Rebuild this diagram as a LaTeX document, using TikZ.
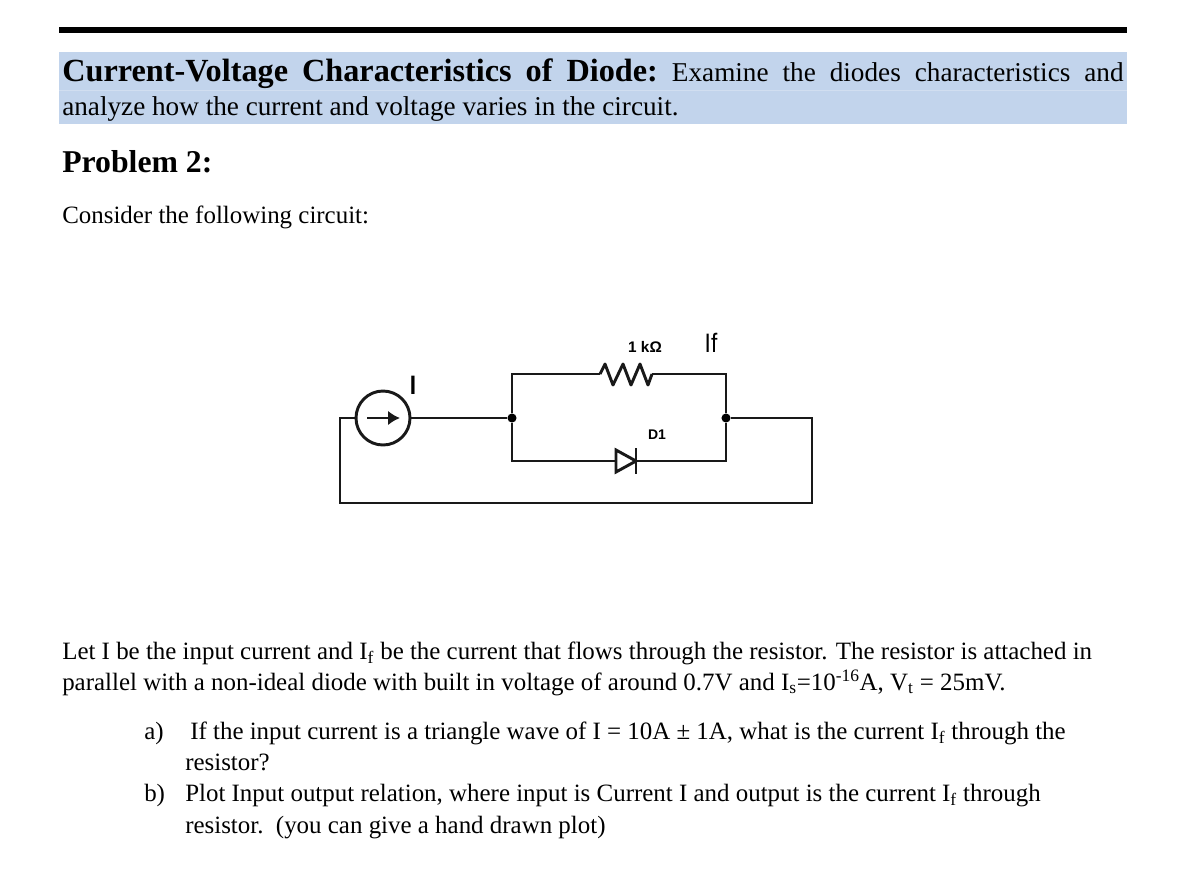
\documentclass[tikz,border=0pt]{standalone}
\usepackage{fontspec}
\usetikzlibrary{arrows.meta}
\setmainfont{Liberation Serif}
\newfontfamily\labelfont{Liberation Sans}
\newcommand{\Isub}[1]{I\textsubscript{#1}}
\definecolor{bandblue}{RGB}{194,212,236}
\tikzset{
    wire/.style={line width=2.2pt, black!90},
    junction/.style={circle, fill=black, inner sep=0pt, minimum size=6.8pt},
    source/.style={circle, draw, line width=2.2pt, black!90, inner sep=0pt, minimum size=40.5pt},
    body/.style={anchor=base west, inner sep=0pt, font=\fontsize{18.7}{24}\selectfont},
    headline/.style={body, font=\fontsize{20.4}{24}\selectfont},
    part/.style={inner sep=0pt, font=\labelfont\bfseries\fontsize{10.5}{12}\selectfont},
    current/.style={inner sep=0pt, xscale=0.85, font=\labelfont\fontsize{20}{22}\selectfont},
}
\begin{document}
\begin{tikzpicture}[x=0.75pt,y=-0.75pt]
    \useasboundingbox (0,0) rectangle (1201,894);

    \fill[black] (59,27) rectangle (1127,33);
    \fill[bandblue] (59,52) rectangle (1127,124);
    \fill[white, opacity=0.25] (59,89.5) rectangle (1127,90.5);

    \node[headline] (head1) at (62,81) {\makebox[796pt][s]{\fontsize{24.2}{24}\selectfont\bfseries Current-Voltage\hfill Characteristics\hfill of\hfill Diode:\hfill\fontsize{20.4}{24}\mdseries Examine\hfill the\hfill diodes\hfill characteristics\hfill and}};
    \node[headline] (head2) at (62,115) {analyze how the current and voltage varies in the circuit.};
    \node[body, font=\fontsize{23.8}{24}\selectfont\bfseries] (prob) at (62,172) {Problem 2:};
    \node[body] (cons) at (62,223) {Consider the following circuit:};

    % circuit
    \node[source] (src) at (383,418) {};
    \node[junction] (jleft) at (512,418) {};
    \node[junction] (jright) at (726,418) {};
    \coordinate (resl) at (600,374);
    \coordinate (resr) at (652,374);
    \coordinate (diol) at (616,461);
    \coordinate (dior) at (636,461);
    \coordinate (cornerl) at (340,503);
    \coordinate (cornerr) at (812,503);

    \draw[wire] (src.east) -- (jleft);
    \draw[wire] (jleft) |- (resl);
    \draw[wire] (resr) -| (jright);
    \draw[wire] (jleft) |- (diol);
    \draw[wire] (dior) -| (jright);
    \draw[wire] (jright) -| (cornerr) -- (cornerl) |- (src.west);

    \draw[wire, line join=round] (resl) -- ++(5,-10) -- ++(8,21) -- ++(10,-21) -- ++(8,21) -- ++(9,-21) -- ++(8,21) -- (resr);
    \draw[wire, line join=miter] (diol) -- ++(0,-11) -- (dior) -- ++(-20,11) -- cycle;
    \draw[wire] (636,448) -- (636,474);
    \draw[wire, -{Latex[length=9pt,width=11pt]}] (367,418) -- (400,418);

    \node[part, font=\labelfont\bfseries\fontsize{11.5}{12}\selectfont] (rval) at (645,347) {1 kΩ};
    \node[part] (dname) at (657,435) {D1};
    \node[current, font=\labelfont\bfseries\fontsize{20}{22}\selectfont] (icur) at (413,385) {I};
    \node[current] (ifcur) at (711,343) {If};

    \node[body] (let1) at (62,659) {Let I be the input current and \Isub{f} be the current that flows through the resistor. The resistor is attached in};
    \node[body] (let2) at (62,690) {parallel with a non-ideal diode with built in voltage of around 0.7V and \Isub{s}=10\textsuperscript{-16}A, V\textsubscript{t} = 25mV.};
    \node[body] (a1) at (144,739) {a)};
    \node[body] (a2) at (190,739) {If the input current is a triangle wave of I = 10A ± 1A, what is the current \Isub{f} through the};
    \node[body] (a3) at (185,770) {resistor?};
    \node[body] (b1) at (144,801) {b)};
    \node[body] (b2) at (185,801) {Plot Input output relation, where input is Current I and output is the current \Isub{f} through};
    \node[body] (b3) at (185,833) {resistor.\ \ (you can give a hand drawn plot)};
\end{tikzpicture}
\end{document}
